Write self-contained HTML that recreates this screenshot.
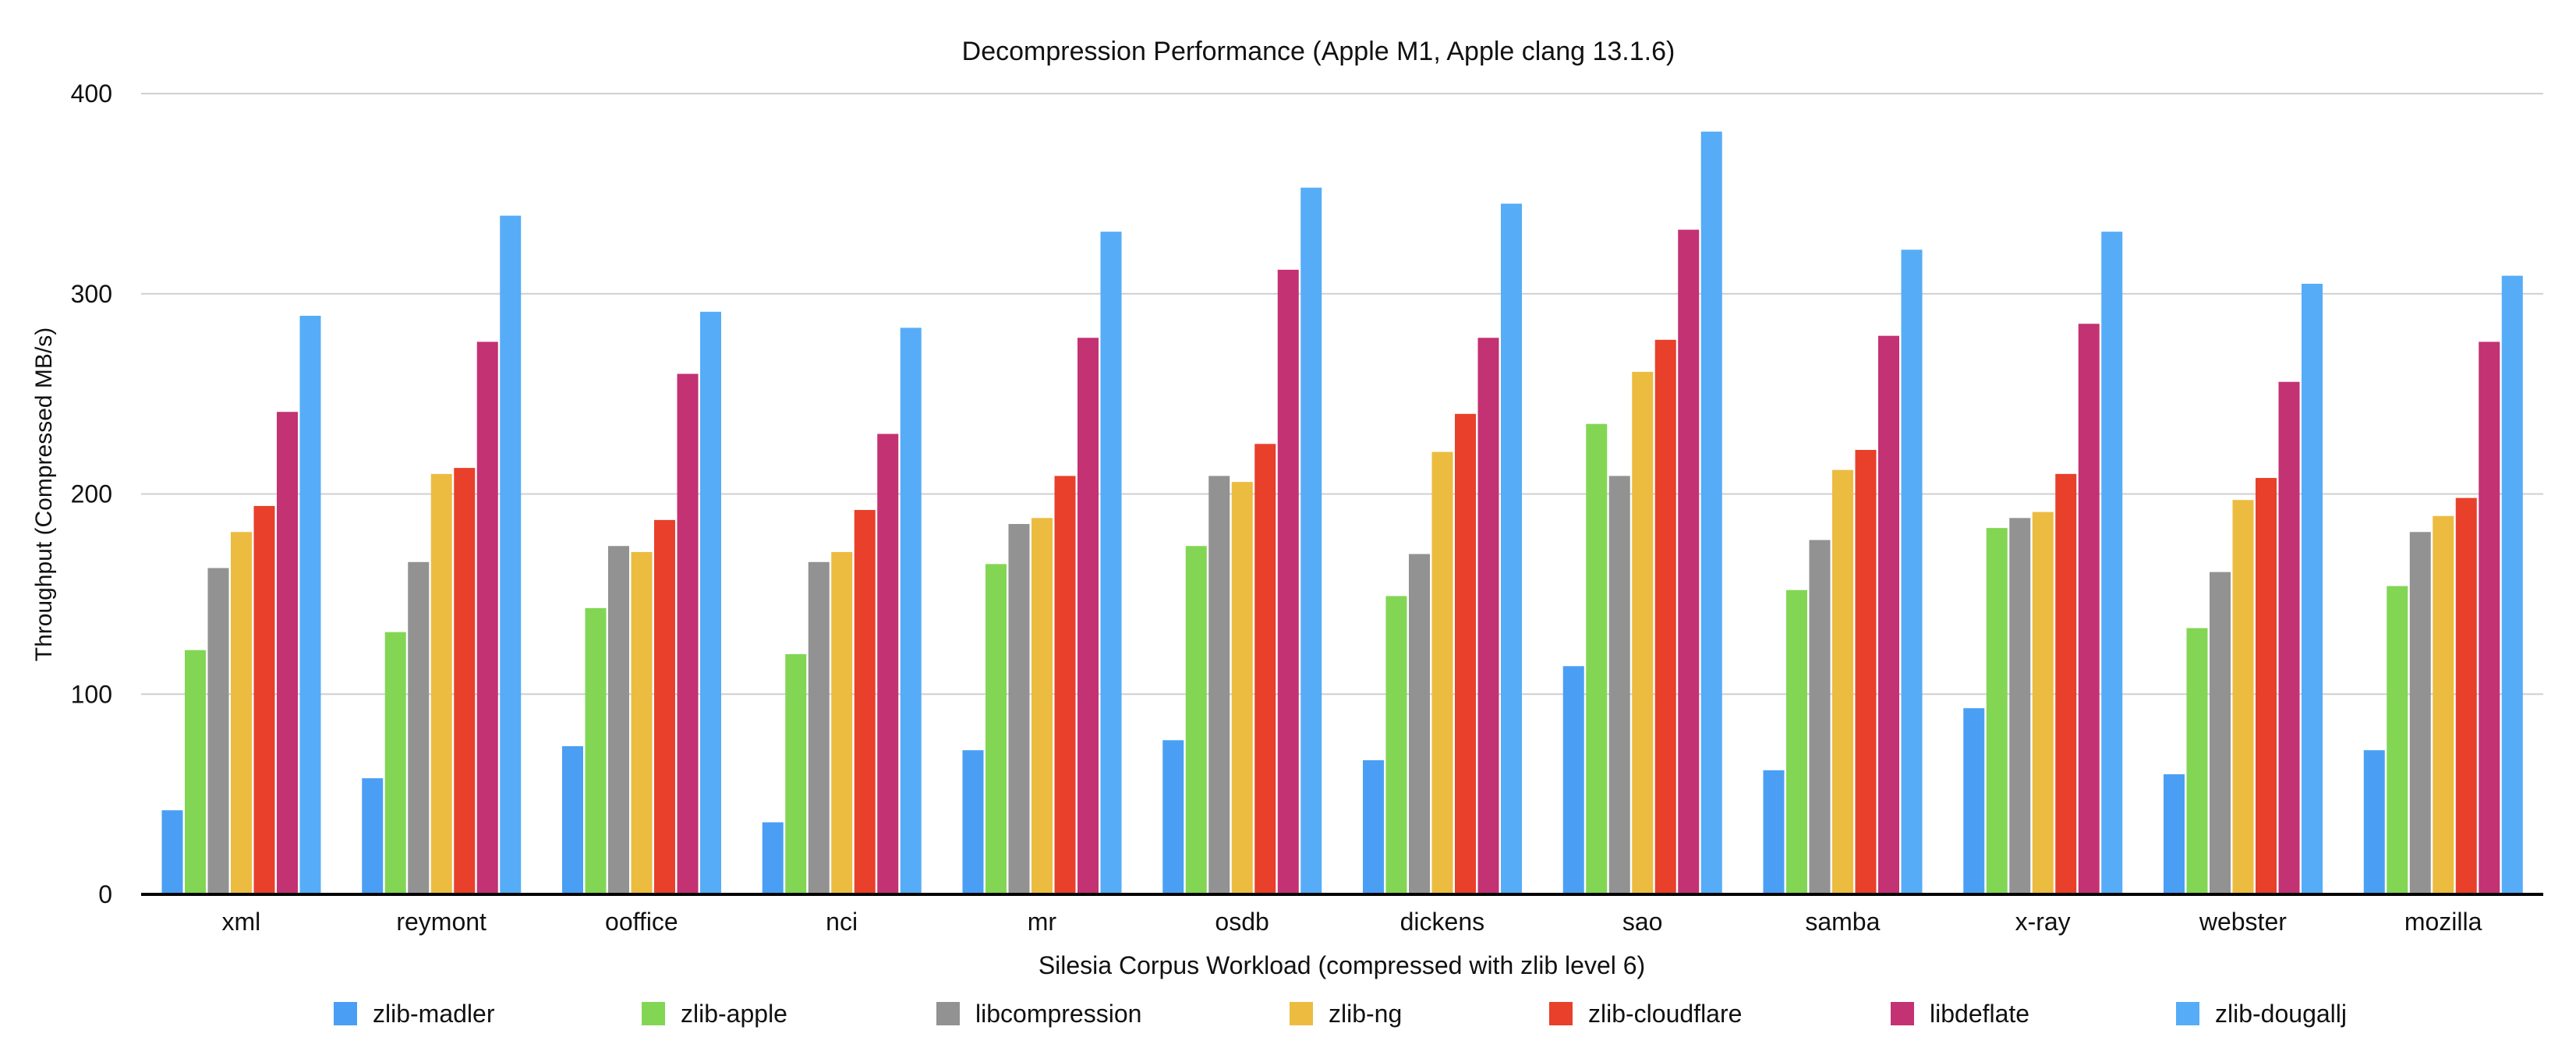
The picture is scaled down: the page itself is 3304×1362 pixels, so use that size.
<!DOCTYPE html>
<html><head><meta charset="utf-8"><style>
html,body{margin:0;padding:0;background:#fff;}
svg{display:block;font-family:"Liberation Sans",Arial,sans-serif;}
</style></head><body>
<svg id="chart" width="3304" height="1362" viewBox="0 0 3304 1362" xmlns="http://www.w3.org/2000/svg">
<text x="1691" y="77" font-size="34" text-anchor="middle" fill="#111">Decompression Performance (Apple M1, Apple clang 13.1.6)</text>
<text transform="translate(66,634) rotate(-90)" font-size="30" text-anchor="middle" fill="#111">Throughput (Compressed MB/s)</text>
<text x="1721" y="1249" font-size="32" text-anchor="middle" fill="#111">Silesia Corpus Workload (compressed with zlib level 6)</text>
<g id="grid"></g><g id="bars"></g><g id="xlabels"></g><g id="legend"></g>
</svg>
<script>
const categories=["xml","reymont","ooffice","nci","mr","osdb","dickens","sao","samba","x-ray","webster","mozilla"];
const seriesNames=["zlib-madler","zlib-apple","libcompression","zlib-ng","zlib-cloudflare","libdeflate","zlib-dougallj"];
const zlibMadler=[42,58,74,36,72,77,67,114,62,93,60,72];
const zlibApple=[122,131,143,120,165,174,149,235,152,183,133,154];
const libcompression=[163,166,174,166,185,209,170,209,177,188,161,181];
const zlibNg=[181,210,171,171,188,206,221,261,212,191,197,189];
const zlibCloudflare=[194,213,187,192,209,225,240,277,222,210,208,198];
const libdeflate=[241,276,260,230,278,312,278,332,279,285,256,276];
const zlibDougallj=[289,339,291,283,331,353,345,381,322,331,305,309];
const yTicks=[0,100,200,300,400];
const series=[zlibMadler,zlibApple,libcompression,zlibNg,zlibCloudflare,libdeflate,zlibDougallj];
const colors=["#4a9ff5","#82d654","#929292","#ecbc41","#e8402a","#c33273","#56acf7"];
const NS="http://www.w3.org/2000/svg";
const X0=181,X1=3262,Y0=1147,YT=120,YMAX=400;
const yS=v=>Y0-(v/YMAX)*(Y0-YT);
const gw=(X1-X0)/categories.length;
const xS=(ci,si)=>X0+ci*gw+26.5+si*29.5;
function mk(tag,attrs,parent){const e=document.createElementNS(NS,tag);for(const k in attrs)e.setAttribute(k,attrs[k]);parent.appendChild(e);return e;}
const grid=document.getElementById('grid');
yTicks.forEach(t=>{
  if(t>0){const l=mk('line',{x1:X0,x2:X1,y1:yS(t),y2:yS(t),stroke:'#cfcfcf','stroke-width':2},grid);
  
  }
  const tx=mk('text',{x:144,y:yS(t)+11,'font-size':32,'text-anchor':'end',fill:'#111'},grid);
  tx.textContent=t;
  
  
});
const bars=document.getElementById('bars');
categories.forEach((c,ci)=>{
  series.forEach((s,si)=>{
    const r=mk('rect',{x:xS(ci,si),y:yS(s[ci]),width:27,height:Y0-yS(s[ci]),fill:colors[si]},bars);
    
    
  });
  const tx=mk('text',{x:X0+ci*gw+gw/2,y:1193,'font-size':32,'text-anchor':'middle',fill:'#111'},document.getElementById('xlabels'));
  tx.textContent=c;
  
  
});
const ax=mk('line',{x1:X0,x2:X1,y1:Y0,y2:Y0,stroke:'#000','stroke-width':4},bars);


const legX=[428,823,1201,1654,1987,2425,2791];
const leg=document.getElementById('legend');
seriesNames.forEach((n,i)=>{
  const g=mk('g',{},leg);
  
  
  mk('rect',{x:legX[i],y:1285,width:30,height:30,fill:colors[i]},g);
  const t=mk('text',{x:legX[i]+50,y:1311,'font-size':32,fill:'#111'},g);
  t.textContent=n;
});
</script>
</body></html>
